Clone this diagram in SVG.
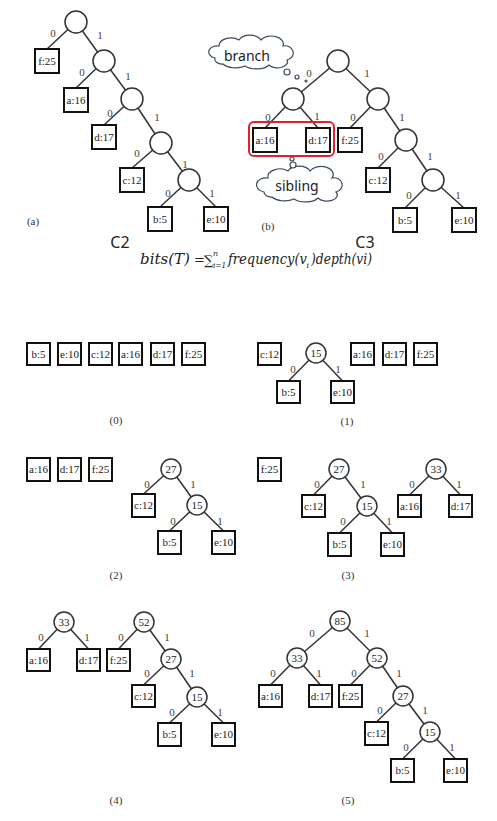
<svg xmlns="http://www.w3.org/2000/svg" width="497" height="821" viewBox="0 0 497 821">
<style>
.box{fill:#fff;stroke:#111;stroke-width:2}
.nd{fill:#fff;stroke:#333;stroke-width:1.5}
.e{stroke:#333;stroke-width:1.5;fill:none}
.t{font-family:"Liberation Serif",serif;font-size:11px;text-anchor:middle;fill:#222}
.lb{font-family:"Liberation Serif",serif;font-size:11px;text-anchor:middle;fill:#444}
.cap{font-family:"Liberation Serif",serif;font-size:11px;text-anchor:middle;fill:#333}
.cl{fill:#fff;stroke:#3d4b5c;stroke-width:1.2}
.ct{font-family:"Noto Sans",sans-serif;font-size:14px;text-anchor:middle;fill:#222}
.big{font-family:"Noto Sans",sans-serif;font-size:16px;text-anchor:middle;fill:#222}
.m{font-family:"DejaVu Serif",serif;font-size:13px;fill:#222}
.mi{font-family:"DejaVu Serif",serif;font-size:14px;font-style:italic;fill:#222}
.ms{font-family:"DejaVu Serif",serif;font-size:8px;font-style:italic;fill:#222}
</style>
<rect width="497" height="821" fill="#fff"/>

<!-- connectors -->
<g id="connectors" class="e">
<line x1="76" y1="22" x2="47" y2="49"/><line x1="76" y1="22" x2="104" y2="61"/>
<line x1="104" y1="61" x2="76" y2="88"/><line x1="104" y1="61" x2="132" y2="99"/>
<line x1="132" y1="99" x2="104" y2="125"/><line x1="132" y1="99" x2="161" y2="143"/>
<line x1="161" y1="143" x2="132" y2="168"/><line x1="161" y1="143" x2="189" y2="180"/>
<line x1="189" y1="180" x2="160" y2="207"/><line x1="189" y1="180" x2="216" y2="207"/>
<line x1="338" y1="61" x2="293" y2="99"/><line x1="338" y1="61" x2="378" y2="99"/>
<line x1="293" y1="99" x2="265" y2="128"/><line x1="293" y1="99" x2="318" y2="128"/>
<line x1="378" y1="99" x2="350" y2="128"/><line x1="378" y1="99" x2="406" y2="140"/>
<line x1="406" y1="140" x2="378" y2="168"/><line x1="406" y1="140" x2="433" y2="180"/>
<line x1="433" y1="180" x2="405" y2="208"/><line x1="433" y1="180" x2="464" y2="208"/>
<line x1="316" y1="353" x2="288.5" y2="381"/><line x1="316" y1="353" x2="342.5" y2="381"/>
<line x1="171" y1="469" x2="143.5" y2="494"/><line x1="171" y1="469" x2="197" y2="505"/>
<line x1="197" y1="505" x2="169.5" y2="531"/><line x1="197" y1="505" x2="223.5" y2="531"/>
<line x1="339" y1="469" x2="313.5" y2="495"/><line x1="339" y1="469" x2="367" y2="506"/>
<line x1="367" y1="506" x2="339.5" y2="533"/><line x1="367" y1="506" x2="392.5" y2="533"/>
<line x1="436" y1="469" x2="409.5" y2="495"/><line x1="436" y1="469" x2="460.5" y2="495"/>
<line x1="64" y1="622" x2="38.5" y2="649"/><line x1="64" y1="622" x2="88.5" y2="649"/>
<line x1="144" y1="622" x2="118.5" y2="649"/><line x1="144" y1="622" x2="171" y2="659"/>
<line x1="171" y1="659" x2="143.5" y2="685"/><line x1="171" y1="659" x2="197" y2="697"/>
<line x1="197" y1="697" x2="169.5" y2="723"/><line x1="197" y1="697" x2="223.5" y2="723"/>
<line x1="340" y1="621" x2="297" y2="658"/><line x1="340" y1="621" x2="377" y2="658"/>
<line x1="297" y1="658" x2="270.5" y2="685"/><line x1="297" y1="658" x2="320.5" y2="685"/>
<line x1="377" y1="658" x2="350.5" y2="685"/><line x1="377" y1="658" x2="403" y2="696"/>
<line x1="403" y1="696" x2="376.5" y2="722"/><line x1="403" y1="696" x2="430" y2="732"/>
<line x1="430" y1="732" x2="402.5" y2="759"/><line x1="430" y1="732" x2="455.5" y2="759"/>
</g>

<!-- edge labels -->
<g id="edge-labels" class="lb">
<text x="53" y="37">0</text><text x="100" y="39">1</text>
<text x="82" y="76">0</text><text x="128" y="80">1</text>
<text x="110" y="117">0</text><text x="157" y="121">1</text>
<text x="137" y="157">0</text><text x="185" y="168">1</text>
<text x="168" y="197">0</text><text x="212" y="197">1</text>
<text x="309" y="77">0</text><text x="367" y="77">1</text>
<text x="268" y="121">0</text><text x="317" y="120">1</text>
<text x="353" y="121">0</text><text x="402" y="121">1</text>
<text x="381" y="160">0</text><text x="430" y="160">1</text>
<text x="409" y="199">0</text><text x="458" y="199">1</text>
<text x="293" y="373">0</text><text x="338" y="373">1</text>
<text x="147" y="488">0</text><text x="193" y="488">1</text>
<text x="173" y="525">0</text><text x="220" y="525">1</text>
<text x="317" y="488">0</text><text x="363" y="488">1</text>
<text x="343" y="525">0</text><text x="389" y="525">1</text>
<text x="412" y="488">0</text><text x="459" y="488">1</text>
<text x="41" y="641">0</text><text x="87" y="641">1</text>
<text x="121" y="641">0</text><text x="167" y="641">1</text>
<text x="147" y="677">0</text><text x="192" y="677">1</text>
<text x="172" y="716">0</text><text x="220" y="716">1</text>
<text x="312" y="637">0</text><text x="367" y="637">1</text>
<text x="273" y="677">0</text><text x="319" y="677">1</text>
<text x="354" y="677">0</text><text x="399" y="677">1</text>
<text x="380" y="714">0</text><text x="425" y="714">1</text>
<text x="406" y="751">0</text><text x="452" y="751">1</text>
</g>

<!-- tree (a) -->
<g id="a-n0"><circle class="nd" cx="76" cy="22" r="11"/></g>
<g id="a-n1"><circle class="nd" cx="104" cy="61" r="11"/></g>
<g id="a-n2"><circle class="nd" cx="132" cy="99" r="11"/></g>
<g id="a-n3"><circle class="nd" cx="161" cy="143" r="11"/></g>
<g id="a-n4"><circle class="nd" cx="189" cy="180" r="11"/></g>
<g id="a-f"><rect class="box" x="35" y="49" width="24" height="24"/><text class="t" x="47" y="65">f:25</text></g>
<g id="a-a"><rect class="box" x="64" y="88" width="24" height="24"/><text class="t" x="76" y="104">a:16</text></g>
<g id="a-d"><rect class="box" x="92" y="125" width="24" height="24"/><text class="t" x="104" y="141">d:17</text></g>
<g id="a-c"><rect class="box" x="120" y="168" width="24" height="24"/><text class="t" x="132" y="184">c:12</text></g>
<g id="a-b"><rect class="box" x="148" y="207" width="24" height="24"/><text class="t" x="160" y="223">b:5</text></g>
<g id="a-e"><rect class="box" x="204" y="207" width="24" height="24"/><text class="t" x="216" y="223">e:10</text></g>
<text class="cap" x="33" y="225">(a)</text>

<!-- tree (b) -->
<g id="b-n0"><circle class="nd" cx="338" cy="61" r="11"/></g>
<g id="b-n1"><circle class="nd" cx="293" cy="99" r="11"/></g>
<g id="b-n2"><circle class="nd" cx="378" cy="99" r="11"/></g>
<g id="b-n3"><circle class="nd" cx="406" cy="140" r="11"/></g>
<g id="b-n4"><circle class="nd" cx="433" cy="180" r="11"/></g>
<g id="b-a"><rect class="box" x="253" y="128" width="24" height="24"/><text class="t" x="265" y="144">a:16</text></g>
<g id="b-d"><rect class="box" x="306" y="128" width="24" height="24"/><text class="t" x="318" y="144">d:17</text></g>
<g id="b-f"><rect class="box" x="338" y="128" width="24" height="24"/><text class="t" x="350" y="144">f:25</text></g>
<g id="b-c"><rect class="box" x="366" y="168" width="24" height="24"/><text class="t" x="378" y="184">c:12</text></g>
<g id="b-b"><rect class="box" x="393" y="208" width="24" height="24"/><text class="t" x="405" y="224">b:5</text></g>
<g id="b-e"><rect class="box" x="452" y="208" width="24" height="24"/><text class="t" x="464" y="224">e:10</text></g>
<g id="sibling-box"><rect x="249" y="122" width="85" height="34" rx="5" fill="none" stroke="#e0202a" stroke-width="2"/></g>
<text class="cap" x="268" y="230">(b)</text>

<!-- clouds -->
<g id="cloud-branch">
<path class="cl" d="M215,58 a8,6 0 0 1 4,-12 a12,8 0 0 1 20,-6 a12,8 0 0 1 22,0 a12,8 0 0 1 22,6 a8,7 0 0 1 4,14 a10,6 0 0 1 -18,5 a14,7 0 0 1 -24,1 a14,7 0 0 1 -22,-2 a7,5 0 0 1 -8,-6 Z"/>
<text class="ct" x="247" y="61">branch</text>
<circle class="cl" cx="287" cy="72" r="3"/><circle class="cl" cx="297" cy="77" r="2"/><circle class="cl" cx="306" cy="81" r="1"/>
</g>
<g id="cloud-sibling">
<path class="cl" d="M264,192 a8,6 0 0 1 4,-14 a12,8 0 0 1 20,-7 a12,8 0 0 1 22,0 a12,8 0 0 1 22,7 a8,7 0 0 1 4,14 a10,6 0 0 1 -18,6 a14,7 0 0 1 -24,1 a14,7 0 0 1 -22,-2 a7,5 0 0 1 -8,-5 Z"/>
<text class="ct" x="297" y="191">sibling</text>
<circle class="cl" cx="293" cy="165" r="3"/><circle class="cl" cx="292" cy="159" r="2"/>
</g>

<text class="big" x="120" y="248">C2</text>
<text class="big" x="365" y="248">C3</text>
<g id="formula">
<text class="mi" x="140" y="264" textLength="50" lengthAdjust="spacingAndGlyphs">bits(T)</text>
<text class="m" x="194" y="264">=</text>
<text class="m" x="204" y="265">∑</text>
<text class="ms" x="213" y="256">n</text>
<text class="ms" x="213" y="268" textLength="13" lengthAdjust="spacingAndGlyphs">i=1</text>
<text class="mi" x="228" y="264" textLength="79" lengthAdjust="spacingAndGlyphs">frequency(v</text>
<text class="ms" x="306.5" y="268" font-size="7">i</text>
<text class="mi" x="311" y="264" textLength="61" lengthAdjust="spacingAndGlyphs">)depth(vi)</text>
</g>

<!-- (0) -->
<g id="s0-b"><rect class="box" x="27" y="343" width="23" height="22"/><text class="t" x="38.5" y="358">b:5</text></g>
<g id="s0-e"><rect class="box" x="58" y="343" width="23" height="22"/><text class="t" x="69.5" y="358">e:10</text></g>
<g id="s0-c"><rect class="box" x="89" y="343" width="23" height="22"/><text class="t" x="100.5" y="358">c:12</text></g>
<g id="s0-a"><rect class="box" x="119" y="343" width="23" height="22"/><text class="t" x="130.5" y="358">a:16</text></g>
<g id="s0-d"><rect class="box" x="151" y="343" width="23" height="22"/><text class="t" x="162.5" y="358">d:17</text></g>
<g id="s0-f"><rect class="box" x="182" y="343" width="23" height="22"/><text class="t" x="193.5" y="358">f:25</text></g>
<text class="cap" x="116" y="424">(0)</text>

<!-- (1) -->
<g id="s1-c"><rect class="box" x="258" y="343" width="23" height="22"/><text class="t" x="269.5" y="358">c:12</text></g>
<g id="s1-15"><circle class="nd" cx="316" cy="353" r="10"/><text class="t" x="316" y="357">15</text></g>
<g id="s1-a"><rect class="box" x="351" y="343" width="23" height="22"/><text class="t" x="362.5" y="358">a:16</text></g>
<g id="s1-d"><rect class="box" x="383" y="343" width="23" height="22"/><text class="t" x="394.5" y="358">d:17</text></g>
<g id="s1-f"><rect class="box" x="414" y="343" width="23" height="22"/><text class="t" x="425.5" y="358">f:25</text></g>
<g id="s1-b"><rect class="box" x="277" y="381" width="23" height="22"/><text class="t" x="288.5" y="396">b:5</text></g>
<g id="s1-e"><rect class="box" x="331" y="381" width="23" height="22"/><text class="t" x="342.5" y="396">e:10</text></g>
<text class="cap" x="347" y="425">(1)</text>

<!-- (2) -->
<g id="s2-a"><rect class="box" x="27" y="458" width="23" height="23"/><text class="t" x="38.5" y="473">a:16</text></g>
<g id="s2-d"><rect class="box" x="58" y="458" width="23" height="23"/><text class="t" x="69.5" y="473">d:17</text></g>
<g id="s2-f"><rect class="box" x="89" y="458" width="23" height="23"/><text class="t" x="100.5" y="473">f:25</text></g>
<g id="s2-27"><circle class="nd" cx="171" cy="469" r="10"/><text class="t" x="171" y="473">27</text></g>
<g id="s2-c"><rect class="box" x="132" y="494" width="23" height="23"/><text class="t" x="143.5" y="509">c:12</text></g>
<g id="s2-15"><circle class="nd" cx="197" cy="505" r="10"/><text class="t" x="197" y="509">15</text></g>
<g id="s2-b"><rect class="box" x="158" y="531" width="23" height="23"/><text class="t" x="169.5" y="546">b:5</text></g>
<g id="s2-e"><rect class="box" x="212" y="531" width="23" height="23"/><text class="t" x="223.5" y="546">e:10</text></g>
<text class="cap" x="116" y="579">(2)</text>

<!-- (3) -->
<g id="s3-f"><rect class="box" x="258" y="458" width="23" height="23"/><text class="t" x="269.5" y="473">f:25</text></g>
<g id="s3-27"><circle class="nd" cx="339" cy="469" r="10"/><text class="t" x="339" y="473">27</text></g>
<g id="s3-c"><rect class="box" x="302" y="495" width="23" height="22"/><text class="t" x="313.5" y="510">c:12</text></g>
<g id="s3-15"><circle class="nd" cx="367" cy="506" r="10"/><text class="t" x="367" y="510">15</text></g>
<g id="s3-b"><rect class="box" x="328" y="533" width="23" height="23"/><text class="t" x="339.5" y="548">b:5</text></g>
<g id="s3-e"><rect class="box" x="381" y="533" width="23" height="23"/><text class="t" x="392.5" y="548">e:10</text></g>
<g id="s3-33"><circle class="nd" cx="436" cy="469" r="10"/><text class="t" x="436" y="473">33</text></g>
<g id="s3-a"><rect class="box" x="398" y="495" width="23" height="22"/><text class="t" x="409.5" y="510">a:16</text></g>
<g id="s3-d"><rect class="box" x="449" y="495" width="23" height="22"/><text class="t" x="460.5" y="510">d:17</text></g>
<text class="cap" x="348" y="579">(3)</text>

<!-- (4) -->
<g id="s4-33"><circle class="nd" cx="64" cy="622" r="10"/><text class="t" x="64" y="626">33</text></g>
<g id="s4-a"><rect class="box" x="27" y="649" width="23" height="22"/><text class="t" x="38.5" y="664">a:16</text></g>
<g id="s4-d"><rect class="box" x="77" y="649" width="23" height="22"/><text class="t" x="88.5" y="664">d:17</text></g>
<g id="s4-52"><circle class="nd" cx="144" cy="622" r="10"/><text class="t" x="144" y="626">52</text></g>
<g id="s4-f"><rect class="box" x="107" y="649" width="23" height="22"/><text class="t" x="118.5" y="664">f:25</text></g>
<g id="s4-27"><circle class="nd" cx="171" cy="659" r="10"/><text class="t" x="171" y="663">27</text></g>
<g id="s4-c"><rect class="box" x="132" y="685" width="23" height="22"/><text class="t" x="143.5" y="700">c:12</text></g>
<g id="s4-15"><circle class="nd" cx="197" cy="697" r="10"/><text class="t" x="197" y="701">15</text></g>
<g id="s4-b"><rect class="box" x="158" y="723" width="23" height="23"/><text class="t" x="169.5" y="738">b:5</text></g>
<g id="s4-e"><rect class="box" x="212" y="723" width="23" height="23"/><text class="t" x="223.5" y="738">e:10</text></g>
<text class="cap" x="116" y="804">(4)</text>

<!-- (5) -->
<g id="s5-85"><circle class="nd" cx="340" cy="621" r="10"/><text class="t" x="340" y="625">85</text></g>
<g id="s5-33"><circle class="nd" cx="297" cy="658" r="10"/><text class="t" x="297" y="662">33</text></g>
<g id="s5-52"><circle class="nd" cx="377" cy="658" r="10"/><text class="t" x="377" y="662">52</text></g>
<g id="s5-a"><rect class="box" x="259" y="685" width="23" height="22"/><text class="t" x="270.5" y="700">a:16</text></g>
<g id="s5-d"><rect class="box" x="309" y="685" width="23" height="22"/><text class="t" x="320.5" y="700">d:17</text></g>
<g id="s5-f"><rect class="box" x="339" y="685" width="23" height="22"/><text class="t" x="350.5" y="700">f:25</text></g>
<g id="s5-27"><circle class="nd" cx="403" cy="696" r="10"/><text class="t" x="403" y="700">27</text></g>
<g id="s5-c"><rect class="box" x="365" y="722" width="23" height="23"/><text class="t" x="376.5" y="737">c:12</text></g>
<g id="s5-15"><circle class="nd" cx="430" cy="732" r="10"/><text class="t" x="430" y="736">15</text></g>
<g id="s5-b"><rect class="box" x="391" y="759" width="23" height="23"/><text class="t" x="402.5" y="774">b:5</text></g>
<g id="s5-e"><rect class="box" x="444" y="759" width="23" height="23"/><text class="t" x="455.5" y="774">e:10</text></g>
<text class="cap" x="348" y="804">(5)</text>
</svg>
